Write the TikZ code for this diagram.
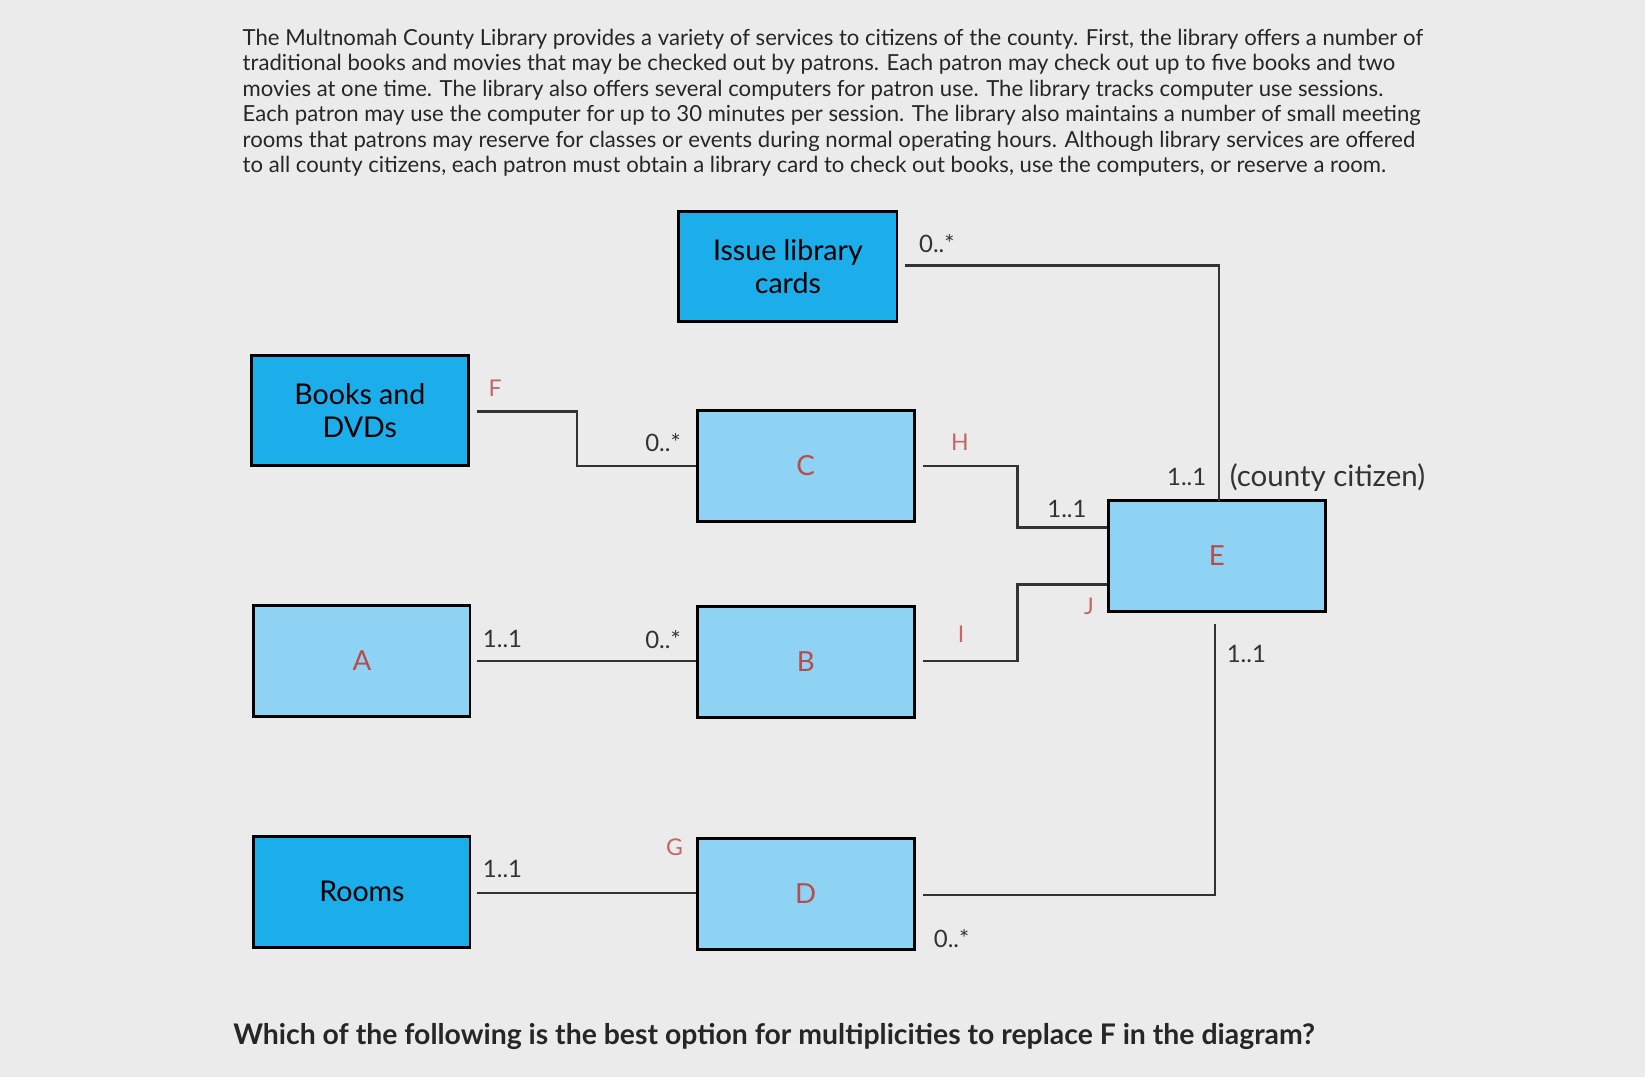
\documentclass[tikz,border=0pt]{standalone}
\usepackage{fontspec}
\setmainfont{Lato}
\definecolor{dk}{HTML}{1CAEEA}
\definecolor{lt}{HTML}{8ED3F3}
\begin{document}
\begin{tikzpicture}[x=0.02cm,y=-0.02cm,
  dark/.style={draw=black,line width=1.6pt,fill=dk,inner sep=0pt},
  light/.style={draw=black,line width=1.6pt,fill=lt,inner sep=0pt},
  ln/.style={line width=1.4pt,black!80},
  lb/.style={font=\fontsize{13}{15}\selectfont,text=black!80},
  ll/.style={font=\fontsize{12.5}{14}\selectfont,text=red!60!black!60},
  par/.style={anchor=west,inner sep=0pt,font=\fontsize{12}{14}\selectfont,text=black!85}]
\fill[black!8] (0,0) rectangle (1568,1027);
\useasboundingbox (0,0) rectangle (1568,1027);
\foreach \t [count=\i] in {
{The Multnomah County Library provides a variety of services to citizens of the county. First, the library offers a number of},
{traditional books and movies that may be checked out by patrons. Each patron may check out up to five books and two},
{movies at one time. The library also offers several computers for patron use. The library tracks computer use sessions.},
{Each patron may use the computer for up to 30 minutes per session. The library also maintains a number of small meeting},
{rooms that patrons may reserve for classes or events during normal operating hours. Although library services are offered},
{to all county citizens, each patron must obtain a library card to check out books, use the computers, or reserve a room.}}
  \node[par] (p\i) at (231,{13+24.3*\i}) {\t};
\node[dark,minimum width=208*0.02cm,minimum height=105*0.02cm,align=center,font=\fontsize{15.5}{18}\selectfont] (issue) at (751,254) {Issue library\\cards};
\node[dark,minimum width=207*0.02cm,minimum height=105*0.02cm,align=center,font=\fontsize{15.5}{18}\selectfont] (books) at (343,391) {Books and\\DVDs};
\node[light,minimum width=207*0.02cm,minimum height=106*0.02cm,font=\fontsize{15}{18}\selectfont,text=red!60!black!70] (c) at (768,444) {C};
\node[light,minimum width=207*0.02cm,minimum height=105*0.02cm,font=\fontsize{15}{18}\selectfont,text=red!60!black!70] (e) at (1160,530) {E};
\node[light,minimum width=206*0.02cm,minimum height=106*0.02cm,font=\fontsize{15}{18}\selectfont,text=red!60!black!70] (a) at (345,630) {A};
\node[light,minimum width=207*0.02cm,minimum height=106*0.02cm,font=\fontsize{15}{18}\selectfont,text=red!60!black!70] (b) at (768,631) {B};
\node[dark,minimum width=206*0.02cm,minimum height=106*0.02cm,font=\fontsize{15.5}{18}\selectfont] (rooms) at (345,850) {Rooms};
\node[light,minimum width=207*0.02cm,minimum height=106*0.02cm,font=\fontsize{15}{18}\selectfont,text=red!60!black!70] (d) at (768,852) {D};
\coordinate (i1) at (863,253);
\coordinate (b1) at (455,392);
\coordinate (c1) at (880,444);
\coordinate (bb) at (880,630);
\coordinate (a1) at (455,630);
\coordinate (r1) at (455,851);
\coordinate (d1) at (880,853);
\coordinate (e1) at (1158,595);
\draw[ln] (i1) -- (1162,253) -- (1162,478);
\draw[ln] (b1) -- (550,392) -- (550,444) -- (c.west);
\draw[ln] (c1) -- (970,444) -- (970,503) -- (e.west |- 0,503);
\draw[ln] (bb) -- (970,630) -- (970,557) -- (e.west |- 0,557);
\draw[ln] (a1) -- (b.west |- a1);
\draw[ln] (r1) -- (d.west |- r1);
\draw[ln] (d1) -- (1158,853) -- (e1);
\node[lb] at (893,232) {0..*};
\node[ll] at (472,370) {F};
\node[lb] at (632,422) {0..*};
\node[ll] at (915,422) {H};
\node[lb,anchor=east] at (1156,455) {1..1};
\node[lb,anchor=west,font=\fontsize{16}{18}\selectfont] at (1166,455) {(county citizen)};
\node[lb] at (1017,485) {1..1};
\node[ll] at (1038,578) {J};
\node[lb] at (479,609) {1..1};
\node[lb] at (632,610) {0..*};
\node[ll] at (916,605) {I};
\node[lb] at (1188,623) {1..1};
\node[ll] at (643,808) {G};
\node[lb] at (479,828) {1..1};
\node[lb] at (907,895) {0..*};
\node[anchor=west,inner sep=0pt,font=\fontsize{15.4}{17}\selectfont\bfseries,text=black!85] (q) at (222,988) {Which of the following is the best option for multiplicities to replace F in the diagram?};
\end{tikzpicture}
\end{document}
